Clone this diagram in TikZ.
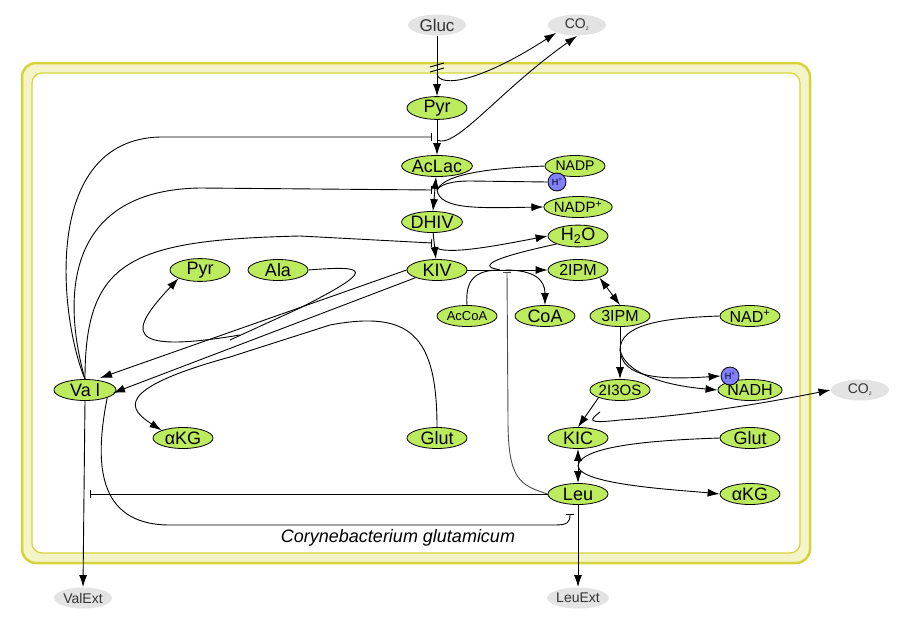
\documentclass[tikz,border=0pt]{standalone}
\usepackage{fontspec}
\setmainfont{Liberation Sans}
\usetikzlibrary{shapes.geometric,arrows.meta}
\definecolor{mgreen}{HTML}{BDEB5E}
\definecolor{mgray}{HTML}{E3E3E3}
\definecolor{myel}{HTML}{D4D43A}
\definecolor{mpale}{HTML}{F4F4C8}
\begin{document}
\begin{tikzpicture}[x=1pt,y=-1pt,line width=0.9pt,
 met/.style={ellipse,draw=black,line width=0.8pt,fill=mgreen,inner sep=0pt,minimum width=60pt,minimum height=21pt,font=\fontsize{18}{18}\selectfont},
 smet/.style={met,font=\fontsize{13}{13}\selectfont},
 ext/.style={ellipse,fill=mgray,inner sep=0pt,minimum width=58pt,minimum height=21pt,font=\fontsize{14}{14}\selectfont,text=black!80},
 hp/.style={circle,draw=black,line width=0.8pt,fill=blue!50,inner sep=0pt,minimum size=18pt,font=\fontsize{9}{9}\selectfont},
 ar/.style={-{Latex[length=12pt,width=8pt]}},
 dar/.style={{Latex[length=12pt,width=8pt]}-{Latex[length=12pt,width=8pt]}},
 inh/.style={-{Bar[width=8pt]}},
 ln/.style={}]
\useasboundingbox (0,0) rectangle (901,626);
\fill[mpale,rounded corners=14pt] (22,63) rectangle (810,563);
\draw[myel,line width=2.5pt,rounded corners=14pt] (22,63) rectangle (810,563);
\fill[white,rounded corners=10pt] (32,73) rectangle (800,553);
\draw[myel,line width=1.2pt,rounded corners=10pt] (32,73) rectangle (800,553);
\node[font=\itshape\fontsize{18}{18}\selectfont] (title) at (398,538) {Corynebacterium glutamicum};
% nodes
\node[ext] (gluc) at (437,25) {\fontsize{17}{17}\selectfont Gluc};
\node[ext] (co2a) at (577,25) {CO\textsubscript{\tiny 2}};
\node[ext] (co2b) at (860,390) {CO\textsubscript{\tiny 2}};
\node[ext] (valext) at (83,598) {ValExt};
\node[ext] (leuext) at (578,598) {LeuExt};
\node[met] (pyr) at (437,108) {Pyr};
\node[met] (aclac) at (437,166) {AcLac};
\node[met] (dhiv) at (432,222) {DHIV};
\node[met] (kiv) at (437,270) {KIV};
\node[smet,font=\fontsize{14}{14}\selectfont] (nadp) at (575,166) {NADP};
\node[hp] (hp1) at (557,182) {H\textsuperscript{+}};
\node[met,font=\fontsize{15}{15}\selectfont] (nadpp) at (578,207) {NADP\textsuperscript{+}};
\node[met] (h2o) at (578,236) {H\textsubscript{2}O};
\node[met,font=\fontsize{16}{16}\selectfont] (ipm2) at (578,270) {2IPM};
\node[smet] (accoa) at (467,316) {AcCoA};
\node[met] (coa) at (545,316) {CoA};
\node[met,font=\fontsize{16}{16}\selectfont] (ipm3) at (620,316) {3IPM};
\node[met,font=\fontsize{16}{16}\selectfont] (nad) at (750,316) {NAD\textsuperscript{+}};
\node[met,font=\fontsize{16}{16}\selectfont] (nadh) at (750,390) {NADH};
\node[hp] (hp2) at (730,376) {H\textsuperscript{+}};
\node[met,font=\fontsize{15}{15}\selectfont] (ios) at (620,390) {2I3OS};
\node[met] (kic) at (578,438) {KIC};
\node[met] (glutr) at (750,438) {Glut};
\node[met] (leu) at (578,494) {Leu};
\node[met] (akgr) at (750,494) {αKG};
\node[met] (pyrl) at (200,270) {Pyr};
\node[met] (ala) at (278,270) {Ala};
\node[met,minimum width=62pt] (val) at (85,390) {Va l};
\node[met] (akgl) at (183,438) {αKG};
\node[met] (glutm) at (437,438) {Glut};
% Gluc -> Pyr
\draw[ar] (gluc) -- (pyr);
\draw (430,67)--(444,63) (430,72)--(444,68);
\coordinate (b1) at (437,74);
\draw[ar] (b1) .. controls (440,88) and (480,82) .. (co2a.south west);
\coordinate (b2) at (437,140);
\draw[ar] (pyr) -- (aclac);
\draw[ar] (b2) .. controls (455,150) and (500,90) .. (co2a.south);
% reversible AcLac<->DHIV
\draw[dar] (aclac) -- (dhiv);
\coordinate (b3) at (437,190);
\draw[ln] (nadp.west) .. controls (500,168) and (445,172) .. (b3);
\draw[ln] (hp1.west) -- (470,181) .. controls (450,181) and (440,185) .. (b3);
\draw[ar] (b3) .. controls (440,210) and (480,208) .. (nadpp.west);
% DHIV -> KIV
\draw[ar] (dhiv) -- (kiv);
\coordinate (b4) at (435,247);
\draw[ar] (b4) .. controls (445,256) and (500,245) .. (h2o.west);
% KIV -> 2IPM
\draw[ar] (kiv.east) -- (ipm2.west);
\draw[ln] (h2o.south west) .. controls (520,252) and (480,262) .. (492,268) -- (500,270);
\draw[ln] (accoa.north) .. controls (465,280) and (475,270) .. (500,270);
\draw[ar] (505,270) .. controls (535,270) and (545,280) .. (coa.north);
\draw[dar] (ipm2.south east) -- (ipm3.north);
\draw[ar] (ipm3) -- (ios);
\coordinate (b5) at (620,350);
\draw[ln] (nad.west) .. controls (660,318) and (620,325) .. (b5);
\draw[ar] (b5) .. controls (622,378) and (660,380) .. (hp2.west);
\draw[ar] (b5) .. controls (625,372) and (660,385) .. (nadh.west);
\draw[ar] (ios.south west) -- (kic.north);
\coordinate (b6) at (600,412);
\draw[ar] (b6) .. controls (590,420) and (585,424) .. (620,420) .. controls (700,415) and (780,400) .. (co2b.west);
\draw[dar] (kic) -- (leu);
\coordinate (b7) at (578,466);
\draw[ln] (glutr.west) .. controls (660,440) and (580,445) .. (b7);
\draw[ar] (b7) .. controls (580,485) and (680,490) .. (akgr.west);
\draw[ar] (leu) -- (leuext);
% Leu inhibitions
\draw[inh,black!70] (leu.west) .. controls (520,485) and (508,480) .. (508,420) -- (507,272);
\draw[inh] (leu.west) -- (90,494);
% Val
\draw[ar] (val.south) -- (valext.north);
\draw[inh] (val.south east) .. controls (95,460) and (95,525) .. (170,525) -- (555,525) .. controls (568,525) and (570,522) .. (570,514);
\draw[inh] (val.north) .. controls (60,320) and (40,140) .. (160,137) -- (432,137);
\draw[inh] (val.north) .. controls (60,290) and (70,190) .. (200,188) -- (432,190);
\draw[inh] (val.north) .. controls (85,260) and (130,240) .. (300,236) -- (432,243);
% transamination KIV->Val
\draw[ar] (kiv.west) -- (100,378);
\draw[ar] (kiv.south west) -- (113,393);
\draw[ln] (ala.east) .. controls (370,265) and (375,270) .. (300,308) -- (230,340);
\draw[ar] (240,335) .. controls (120,355) and (130,330) .. (pyrl.south west);
\draw[ln] (glutm.north) .. controls (437,335) and (410,310) .. (330,325) -- (230,357);
\draw[ar] (230,357) .. controls (110,390) and (130,410) .. (akgl.north west);
\end{tikzpicture}
\end{document}
